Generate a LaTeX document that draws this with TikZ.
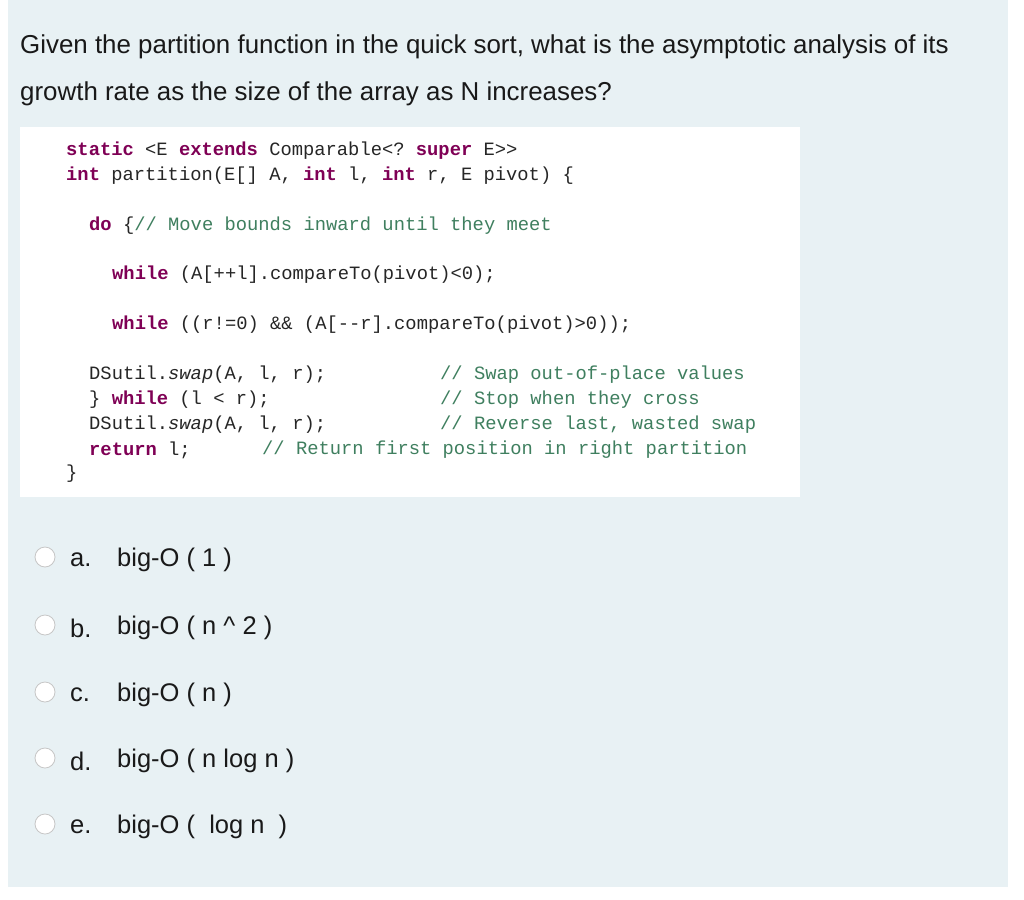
\documentclass[tikz,border=0pt]{standalone}
\usepackage{fontspec}
\setmainfont{Liberation Sans}
\setmonofont{Liberation Mono}
\begin{document}
\begin{tikzpicture}[x=1pt,y=-1pt,
  code/.style={anchor=west,inner sep=0pt,font=\fontsize{18.8}{20}\ttfamily,text=black!85},
  q/.style={anchor=west,inner sep=0pt,font=\fontsize{25.5}{28}\selectfont,text=black!90},
  radio/.style={circle,minimum size=20pt,inner sep=0pt,draw=gray!45,fill=white,line width=0.8pt}]
\definecolor{bg}{HTML}{E8F1F4}
\definecolor{kw}{HTML}{7F0055}
\definecolor{cm}{HTML}{3F7F5F}
\newcommand{\kw}[1]{\textcolor{kw}{\textbf{#1}}}
\newcommand{\cmt}[1]{\textcolor{cm}{#1}}
\useasboundingbox (0,0) rectangle (1024,899);
\fill[bg] (8,0) rectangle (1008,887);
\fill[white] (20,127) rectangle (800,497);
\node[q,font=\fontsize{25.9}{28}\selectfont] (t1) at (20,47) {Given the partition function in the quick sort, what is the asymptotic analysis of its};
\node[q,font=\fontsize{25.9}{28}\selectfont] (t2) at (20,94) {growth rate as the size of the array as N increases?};
\node[code] (c1) at (66,151) {\kw{static} <E \kw{extends} Comparable<? \kw{super} E>>};
\node[code] (c2) at (66,176) {\kw{int} partition(E[] A, \kw{int} l, \kw{int} r, E pivot) \{};
\node[code] (c3) at (89,226) {\kw{do} \{\cmt{// Move bounds inward until they meet}};
\node[code] (c4) at (112,275) {\kw{while} (A[++l].compareTo(pivot)<0);};
\node[code] (c5) at (112,325) {\kw{while} ((r!=0) \&\& (A[--r].compareTo(pivot)>0));};
\node[code] (c6) at (89,375) {DSutil.\textit{swap}(A, l, r);};
\node[code] (c7) at (89,400) {\} \kw{while} (l < r);};
\node[code] (c8) at (89,425) {DSutil.\textit{swap}(A, l, r);};
\node[code] (c9) at (89,450) {\kw{return} l;};
\node[code] (c10) at (66,474) {\}};
\node[code] (m1) at (440,375) {\cmt{// Swap out-of-place values}};
\node[code] (m2) at (440,400) {\cmt{// Stop when they cross}};
\node[code] (m3) at (440,425) {\cmt{// Reverse last, wasted swap}};
\node[code] (m4) at (262,450) {\cmt{// Return first position in right partition}};
\foreach \y/\l/\t [count=\i] in {557/a./{big-O ( 1 )},625/b./{big-O ( n \^{} 2 )},692/c./{big-O ( n )},758/d./{big-O ( n log n )},824/e./{big-O (\ \ log n \ )}}{
  \node[radio] (r\i) at (45,\y) {};
  \node[q] (l\i) at (70,\y+3) {\l};
  \node[q] (o\i) at (117,\y+3) {\t};
}
\end{tikzpicture}
\end{document}
